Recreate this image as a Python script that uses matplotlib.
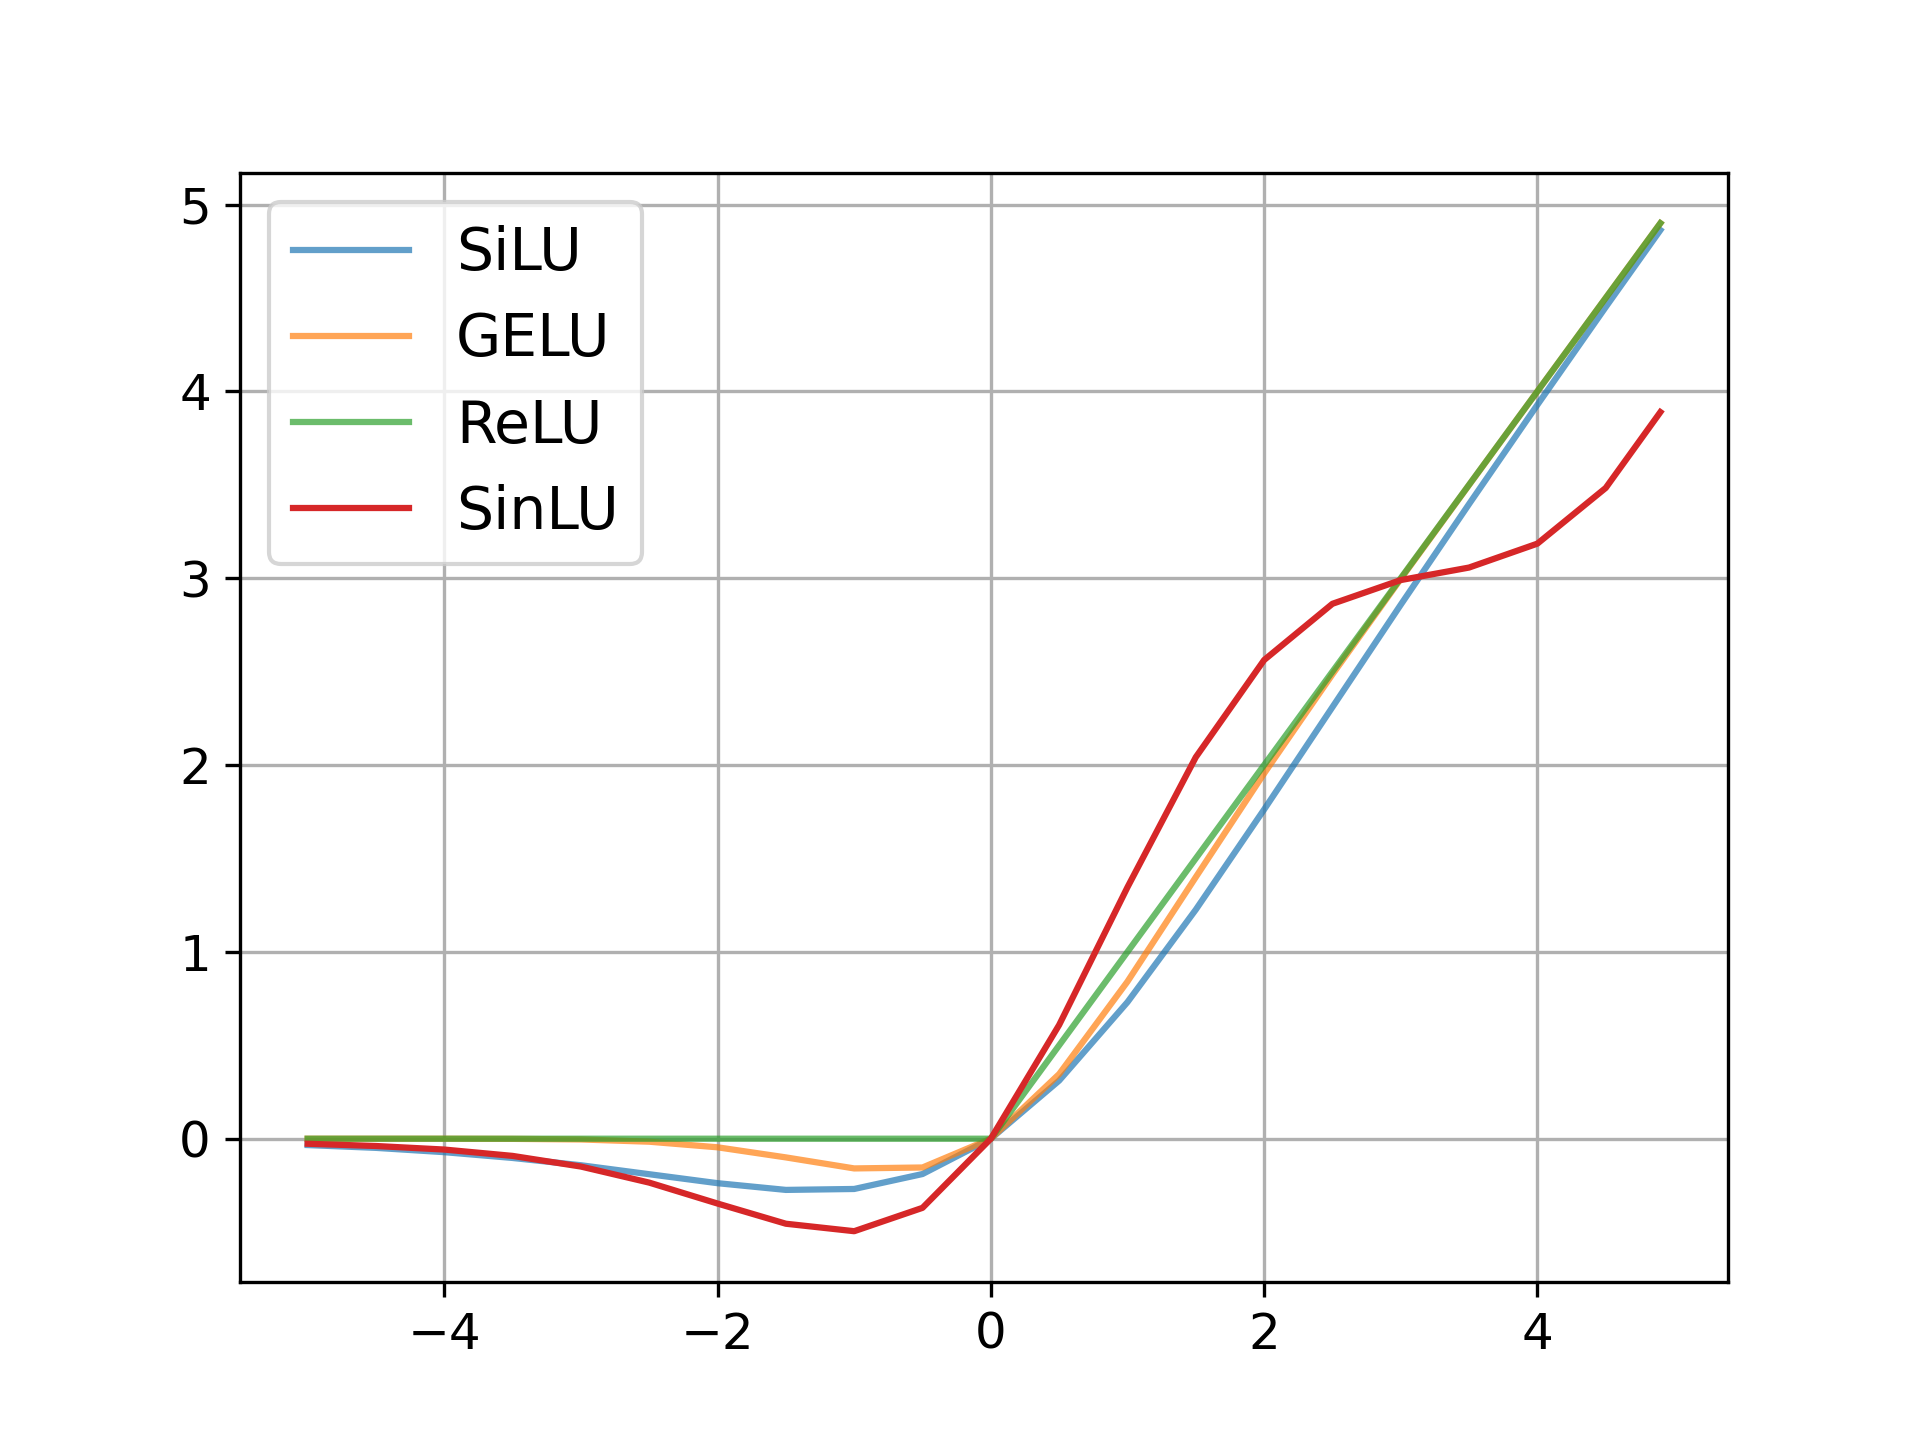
import matplotlib.pyplot as plt

# values
x = [-5, -4.5, -4, -3.5, -3, -2.5, -2, -1.5, -1, -0.5, 0,
     0.5, 1, 1.5, 2, 2.5, 3, 3.5, 4, 4.5, 4.9]
silu = [-0.034, -0.049, -0.072, -0.103, -0.142, -0.190, -0.238, -0.274, -0.269, -0.189, 0.0,
        0.311, 0.731, 1.226, 1.762, 2.310, 2.858, 3.397, 3.928, 4.451, 4.863]
gelu = [0.0, 0.0, -0.0001, -0.0008, -0.004, -0.016, -0.046, -0.100, -0.159, -0.154, 0.0,
        0.346, 0.841, 1.400, 1.955, 2.485, 2.996, 3.499, 4.000, 4.500, 4.900]
relu = [0, 0, 0, 0, 0, 0, 0, 0, 0, 0, 0,
        0.5, 1, 1.5, 2, 2.5, 3, 3.5, 4, 4.5, 4.9]
sinlu = [-0.027, -0.039, -0.058, -0.092, -0.149, -0.235, -0.347, -0.455, -0.495, -0.370, 0.0,
         0.609, 1.346, 2.042, 2.562, 2.863, 2.990, 3.057, 3.185, 3.483, 3.889]

plt.figure(figsize=(6.4, 4.8), dpi=300)
plt.plot(x, silu, label='SiLU', alpha=0.7)
plt.plot(x, gelu, label='GELU', alpha=0.7)
plt.plot(x, relu, label='ReLU', alpha=0.7)
plt.plot(x, sinlu, label='SinLU', color='tab:red')
plt.grid(True)
plt.xticks(fontsize=12)
plt.yticks(fontsize=12)
plt.legend(fontsize=14, loc='upper left')
plt.savefig('out.png', dpi=300)
